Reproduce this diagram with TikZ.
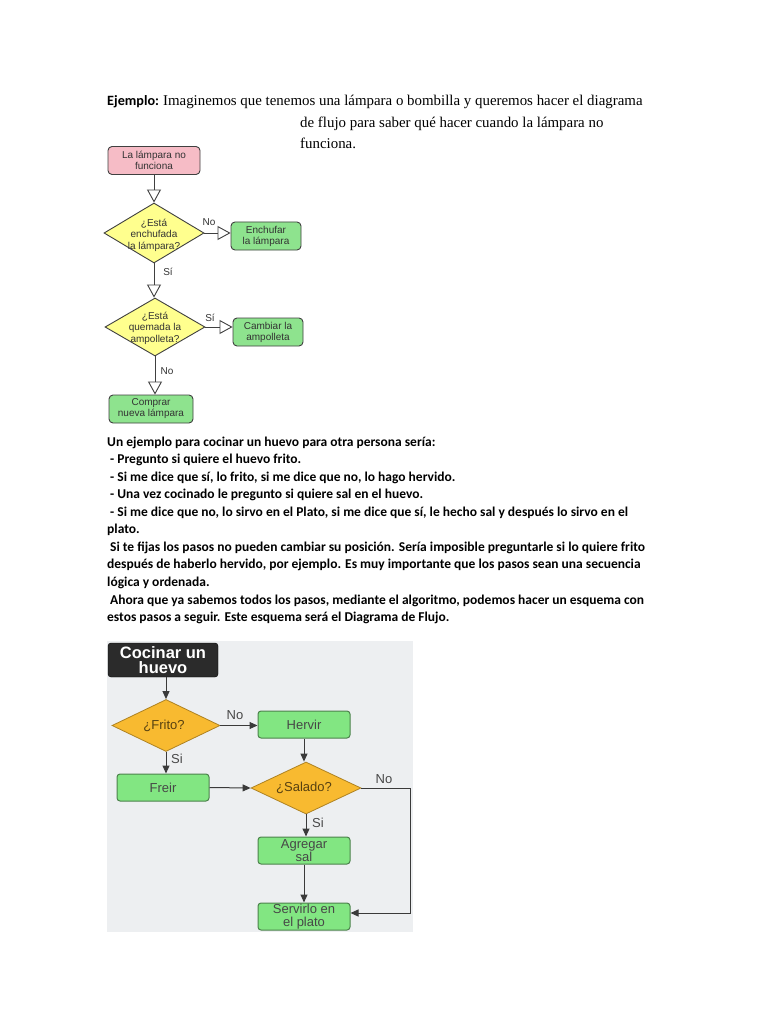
\documentclass[tikz,border=0pt]{standalone}
\usepackage{fontspec}
\setmainfont{Liberation Serif}
\newfontfamily\carl{Carlito}
\newfontfamily\arial{Liberation Sans}
\usetikzlibrary{shapes.geometric,arrows.meta}
\definecolor{pinkbox}{HTML}{F6BCC6}
\definecolor{yelldia}{HTML}{FFFF8E}
\definecolor{greenA}{HTML}{8EE38E}
\definecolor{bgB}{HTML}{EDEFF1}
\definecolor{greenB}{HTML}{82E682}
\definecolor{orangeB}{HTML}{F8BA30}
\definecolor{darkB}{HTML}{2B2B2B}
\definecolor{lineB}{HTML}{3A3A3A}
\definecolor{txtA}{HTML}{333333}
\tikzset{
  x=1pt, y=-1pt,
  body/.style={anchor=base west, inner sep=0pt, font=\fontsize{14.9}{16}\selectfont},
  para/.style={anchor=base west, inner sep=0pt, font=\carl\bfseries\fontsize{13.5}{14}\selectfont},
  boxA/.style={draw=black!75, line width=0.9pt, rounded corners=4pt, minimum width=#1, minimum height=28pt, inner sep=0pt, align=center, font=\arial\fontsize{10}{11}\selectfont, text=txtA},
  diaA/.style={draw=black!75, line width=0.9pt, fill=yelldia, diamond, minimum width=100pt, minimum height=#1, inner sep=0pt, aspect=1.7},
  diatxtA/.style={align=center, inner sep=0pt, font=\arial\fontsize{10}{11.5}\selectfont, text=txtA},
  arrA/.style={draw=black!75, line width=0.9pt, -{Triangle[open, width=14pt, length=13pt, line width=0.9pt]}},
  lblA/.style={inner sep=0pt, font=\arial\fontsize{10}{11}\selectfont, text=txtA},
  boxB/.style={draw=green!30!black!70, fill=greenB, line width=1pt, rounded corners=3pt, minimum width=92pt, minimum height=27pt, inner sep=0pt, align=center, font=\arial\fontsize{13}{12.5}\selectfont, text=black!72},
  diaB/.style={draw=orangeB!70!black, fill=orangeB, line width=0.8pt, diamond, minimum width=#1, minimum height=52pt, inner sep=0pt, aspect=2.1},
  diatxtB/.style={font=\arial\fontsize{13}{13}\selectfont, text=black!65!orangeB, inner sep=0pt},
  arrB/.style={draw=lineB, line width=1pt, -{Triangle[width=7pt, length=8pt]}},
  lblB/.style={inner sep=0pt, font=\arial\fontsize{13}{13}\selectfont, text=black!72},
}
\begin{document}
\begin{tikzpicture}
\useasboundingbox[fill=white] (0,0) rectangle (768,1024);
% ---- first paragraph
\node[body] (t1) at (107,106) {{\carl\bfseries\fontsize{14.2}{16}\selectfont Ejemplo:}\hspace{-1pt} Imaginemos que tenemos una lámpara o bombilla y queremos hacer el diagrama};
\node[body] (t2) at (300,127.5) {de flujo para saber qué hacer cuando la lámpara no};
\node[body] (t3) at (300,148.5) {funciona.};
% ---- first flowchart
\node[boxA=92pt, fill=pinkbox] (a0) at (154,160.5) {La lámpara no\\funciona};
\node[diaA=60pt] (a1) at (154,233) {};
\node[diatxtA] (a1t) at (154,235) {¿Está\\enchufada\\la lámpara?};
\node[boxA=70pt, fill=greenA] (a2) at (266,236) {Enchufar\\la lámpara};
\node[diaA=58pt] (a3) at (155,327) {};
\node[diatxtA] (a3t) at (155,328) {¿Está\\quemada la\\ampolleta?};
\node[boxA=70pt, fill=greenA] (a4) at (268,332) {Cambiar la\\ampolleta};
\node[boxA=84pt, fill=greenA] (a5) at (151,409) {Comprar\\nueva lámpara};
\draw[arrA] (a0.south) -- (a1.north);
\draw[arrA] (a1.east) -- (a1.east -| a2.west);
\draw[arrA] (a1.south) -- (a3.north -| a1.south);
\draw[arrA] (a3.east) -- (a3.east -| a4.west);
\draw[arrA] (a3.south) -- (a5.north -| a3.south);
\node[lblA] (l1) at (209,222) {No};
\node[lblA] (l2) at (168,272) {Sí};
\node[lblA] (l3) at (210,318) {Sí};
\node[lblA] (l4) at (167,371) {No};
% ---- second paragraph
\node[para] (p1) at (107,446) {Un ejemplo para cocinar un huevo para otra persona sería:};
\node[para] (p2) at (110,463.5) {- Pregunto si quiere el huevo frito.};
\node[para] (p3) at (110,481) {- Si me dice que sí, lo frito, si me dice que no, lo hago hervido.};
\node[para] (p4) at (110,498.5) {- Una vez cocinado le pregunto si quiere sal en el huevo.};
\node[para] (p5) at (110,516) {- Si me dice que no, lo sirvo en el Plato, si me dice que sí, le hecho sal y después lo sirvo en el};
\node[para] (p6) at (107,533.5) {plato.};
\node[para] (p7) at (110,551) {Si te fijas los pasos no pueden cambiar su posición. Sería imposible preguntarle si lo quiere frito};
\node[para] (p8) at (107,568.5) {después de haberlo hervido, por ejemplo. Es muy importante que los pasos sean una secuencia};
\node[para] (p9) at (107,586) {lógica y ordenada.};
\node[para] (p10) at (110,604) {Ahora que ya sabemos todos los pasos, mediante el algoritmo, podemos hacer un esquema con};
\node[para] (p11) at (107,621.5) {estos pasos a seguir. Este esquema será el Diagrama de Flujo.};
% ---- second flowchart
\fill[bgB] (107,641) rectangle (413,932);
\node[draw=black, fill=darkB, rounded corners=3pt, minimum width=110pt, minimum height=34pt, inner sep=0pt, align=center, text=white, font=\arial\bfseries\fontsize{16.5}{15}\selectfont] (b0) at (163,660) {Cocinar un\\huevo};
\node[diaB=108pt] (b1) at (166,725.5) {};
\node[diatxtB] (b1t) at (164,725.5) {¿Frito?};
\node[boxB] (b2) at (304,724.5) {Hervir};
\node[boxB] (b3) at (163,787.5) {Freir};
\node[diaB=110pt] (b4) at (306,788) {};
\node[diatxtB] (b4t) at (304,788) {¿Salado?};
\node[boxB] (b5) at (304,850.5) {Agregar\\sal};
\node[boxB] (b6) at (304,916.5) {Servirlo en\\el plato};
\coordinate (c1) at (410,788);
\coordinate (c2) at (410,913);
\draw[arrB] (b0.south -| b1.north) -- (b1.north);
\draw[arrB] (b1.east) -- (b1.east -| b2.west);
\draw[arrB] (b1.south) -- (b1.south |- b3.north);
\draw[arrB] (b2.south) -- (b2.south |- b4.north);
\draw[arrB] (b3.east) -- (b4.west);
\draw[arrB] (b4.south) -- (b4.south |- b5.north);
\draw[arrB] (b5.south) -- (b6.north);
\draw[arrB] (b4.east) -- (c1) -- (c2) -- (c2 -| b6.east);
\node[lblB] (m1) at (235,715) {No};
\node[lblB] (m2) at (177,759) {Si};
\node[lblB] (m3) at (384,779) {No};
\node[lblB] (m4) at (318,823) {Si};
\end{tikzpicture}
\end{document}
